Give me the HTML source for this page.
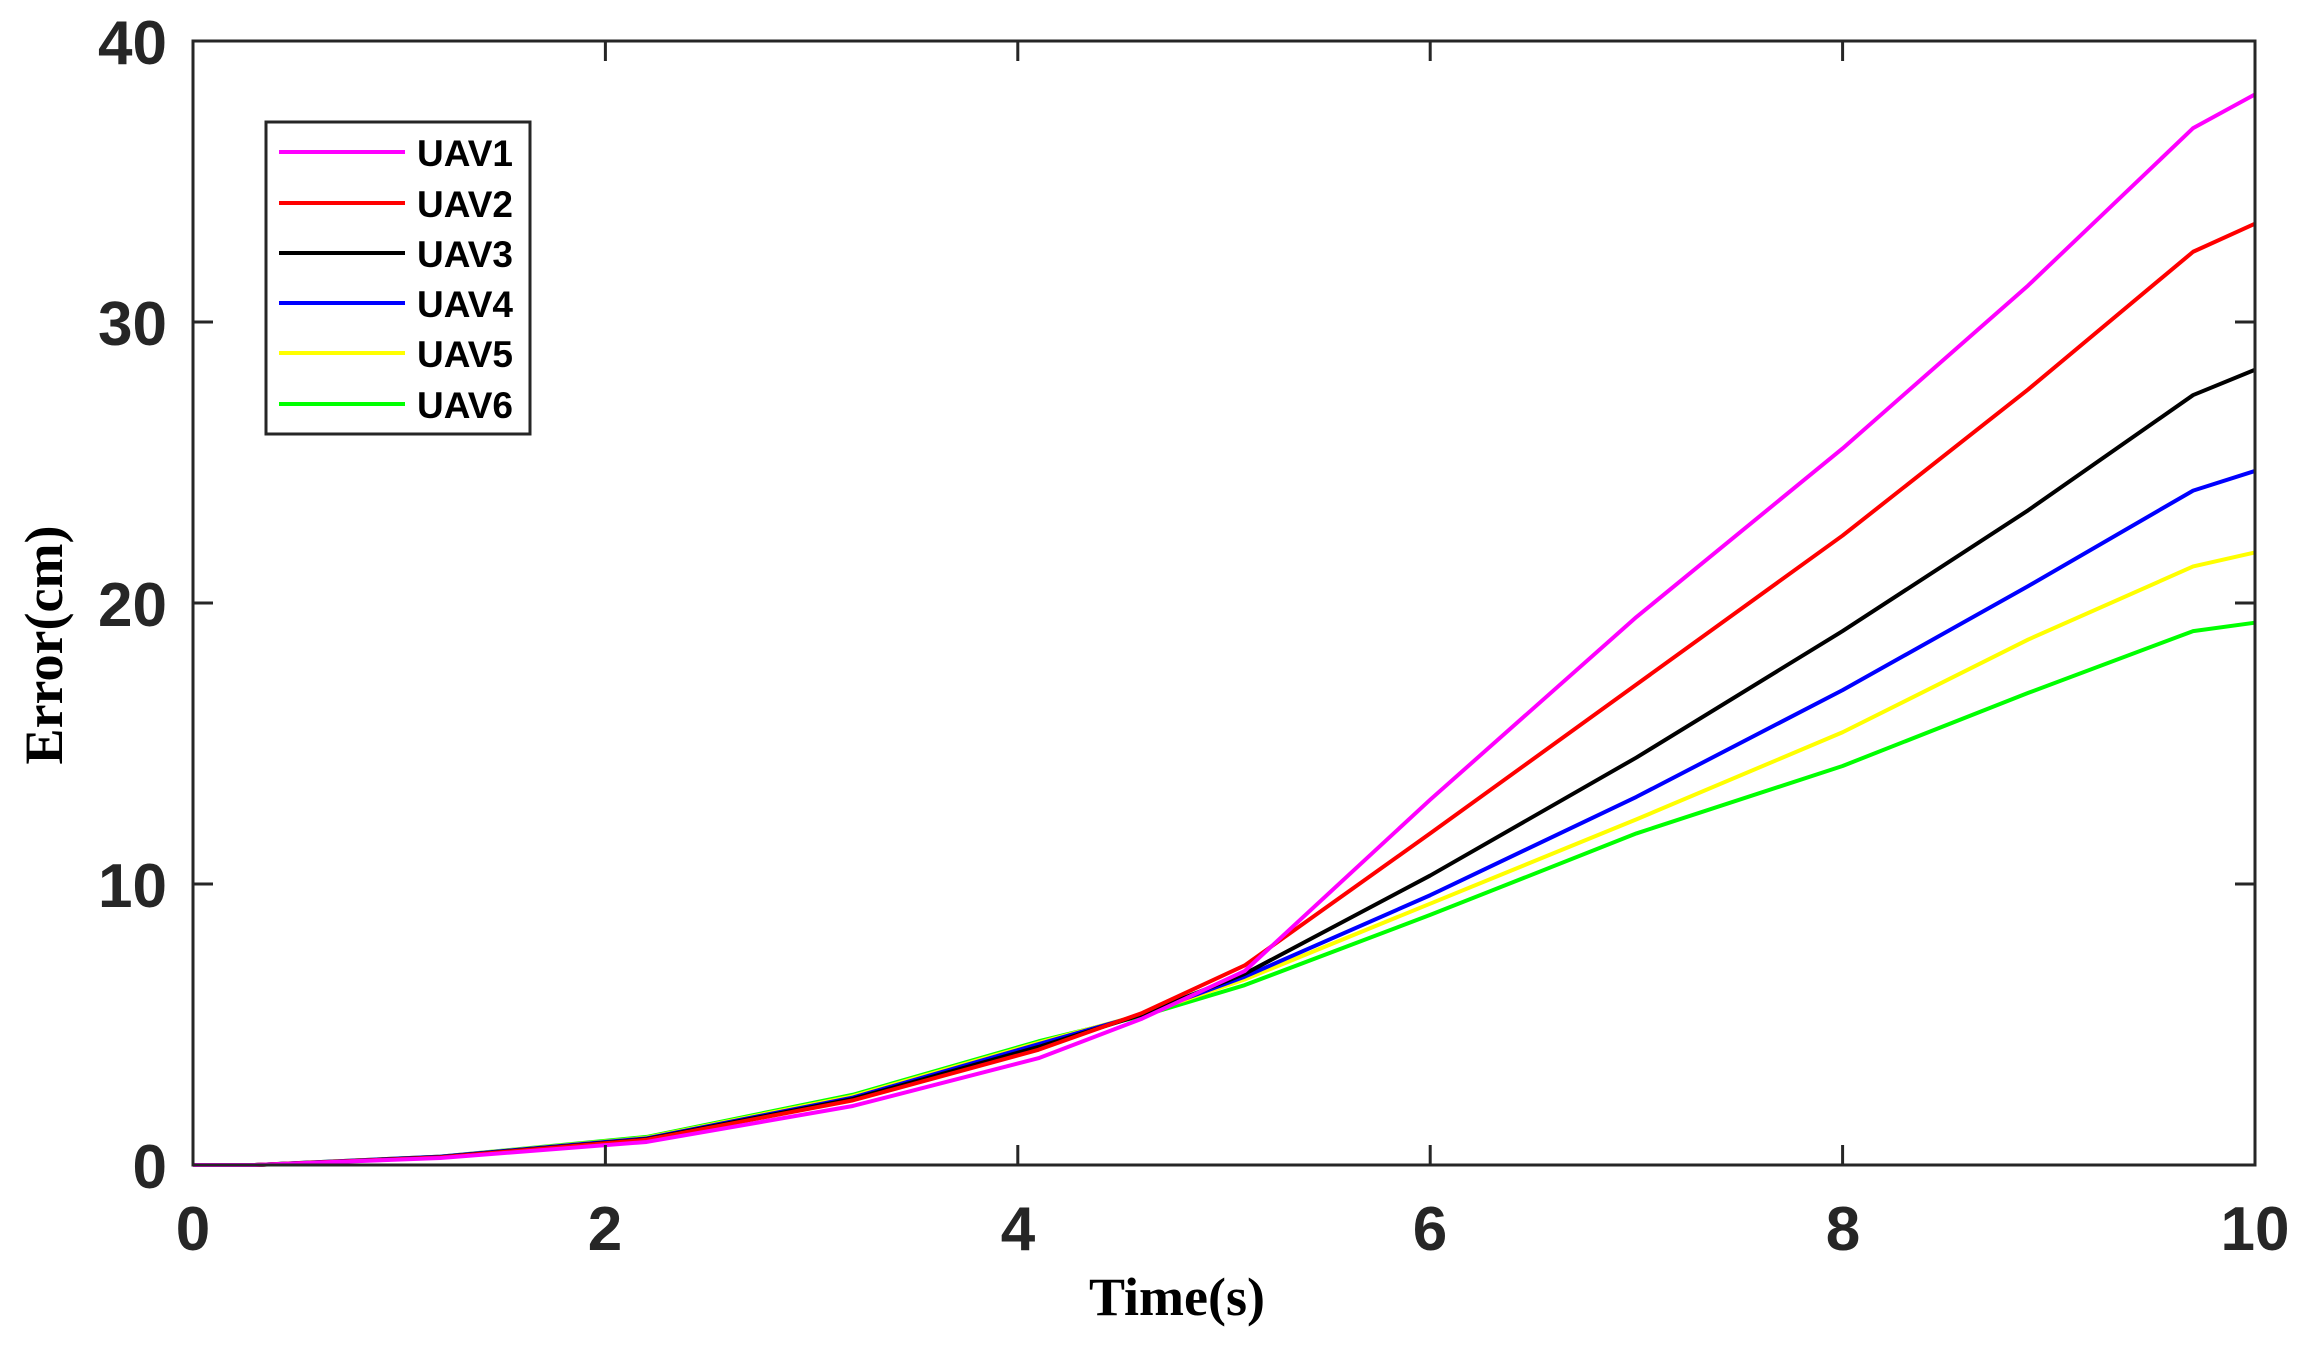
<!DOCTYPE html>
<html><head><meta charset="utf-8"><style>
html,body{margin:0;padding:0;background:#fff;}
svg{display:block;}
.tk{font-family:"Liberation Sans",sans-serif;font-weight:bold;font-size:62px;fill:#262626;}
.lg{font-family:"Liberation Sans",sans-serif;font-weight:bold;font-size:37px;fill:#000;}
.lab{font-family:"Liberation Serif",serif;font-weight:bold;font-size:54px;fill:#000;}
polyline{fill:none;stroke-width:4;vector-effect:non-scaling-stroke;stroke-linejoin:round;}
</style></head><body>
<svg width="2308" height="1345" viewBox="0 0 2308 1345" xmlns="http://www.w3.org/2000/svg">
<rect width="2308" height="1345" fill="#fff"/>
<g transform="translate(193,1165) scale(206.2,-28.1)">
<polyline stroke="#00ff00" points="0,0 0.3,0 1.2,0.3 2.2,1.0 3.2,2.5 4.1,4.4 4.6,5.3 5.1,6.4 6,8.9 7,11.8 8,14.2 8.9,16.8 9.7,19.0 10,19.3"/>
<polyline stroke="#ffff00" points="0,0 0.3,0 1.2,0.3 2.2,0.97 3.2,2.45 4.1,4.35 4.6,5.35 5.1,6.6 6,9.3 7,12.3 8,15.4 8.9,18.7 9.7,21.3 10,21.8"/>
<polyline stroke="#0000ff" points="0,0 0.3,0 1.2,0.3 2.2,0.95 3.2,2.4 4.1,4.3 4.6,5.35 5.1,6.7 6,9.6 7,13.1 8,16.9 8.9,20.6 9.7,24.0 10,24.7"/>
<polyline stroke="#000000" points="0,0 0.3,0 1.2,0.28 2.2,0.92 3.2,2.35 4.1,4.2 4.6,5.35 5.1,6.8 6,10.3 7,14.5 8,19.0 8.9,23.3 9.7,27.4 10,28.3"/>
<polyline stroke="#ff0000" points="0,0 0.3,0 1.2,0.27 2.2,0.9 3.2,2.3 4.1,4.1 4.6,5.4 5.1,7.1 6,11.8 7,17.1 8,22.4 8.9,27.6 9.7,32.5 10,33.5"/>
<polyline stroke="#ff00ff" points="0,0 0.3,0 1.2,0.25 2.2,0.82 3.2,2.1 4.1,3.8 4.6,5.2 5.1,6.9 6,13.0 7,19.5 8,25.5 8.9,31.3 9.7,36.9 10,38.1"/>
</g>
<g stroke="#262626" stroke-width="3" fill="none">
<rect x="193" y="41" width="2062" height="1124"/>
<path d="M605.4,1165v-20M1017.8,1165v-20M1430.2,1165v-20M1842.6,1165v-20M605.4,41v20M1017.8,41v20M1430.2,41v20M1842.6,41v20M193,884h20M193,603h20M193,322h20M2255,884h-20M2255,603h-20M2255,322h-20"/>
</g>
<g class="tk" text-anchor="end">
<text x="167" y="64">40</text>
<text x="167" y="345">30</text>
<text x="167" y="626">20</text>
<text x="167" y="907">10</text>
<text x="167" y="1188">0</text>
</g>
<g class="tk" text-anchor="middle">
<text x="193" y="1250">0</text>
<text x="605" y="1250">2</text>
<text x="1018" y="1250">4</text>
<text x="1430" y="1250">6</text>
<text x="1843" y="1250">8</text>
<text x="2255" y="1250">10</text>
</g>
<text class="lab" x="1177" y="1315" text-anchor="middle">Time(s)</text>
<text class="lab" transform="translate(62,645) rotate(-90)" text-anchor="middle">Error(cm)</text>
<rect x="266" y="122" width="264" height="312" fill="#fff" stroke="#262626" stroke-width="3"/>
<g stroke-width="4">
<line x1="279" y1="152" x2="405" y2="152" stroke="#ff00ff"/>
<line x1="279" y1="203" x2="405" y2="203" stroke="#ff0000"/>
<line x1="279" y1="253" x2="405" y2="253" stroke="#000000"/>
<line x1="279" y1="303" x2="405" y2="303" stroke="#0000ff"/>
<line x1="279" y1="353" x2="405" y2="353" stroke="#ffff00"/>
<line x1="279" y1="404" x2="405" y2="404" stroke="#00ff00"/>
</g>
<g class="lg">
<text x="417" y="166">UAV1</text>
<text x="417" y="217">UAV2</text>
<text x="417" y="267">UAV3</text>
<text x="417" y="317">UAV4</text>
<text x="417" y="367">UAV5</text>
<text x="417" y="418">UAV6</text>
</g>
</svg>
</body></html>
